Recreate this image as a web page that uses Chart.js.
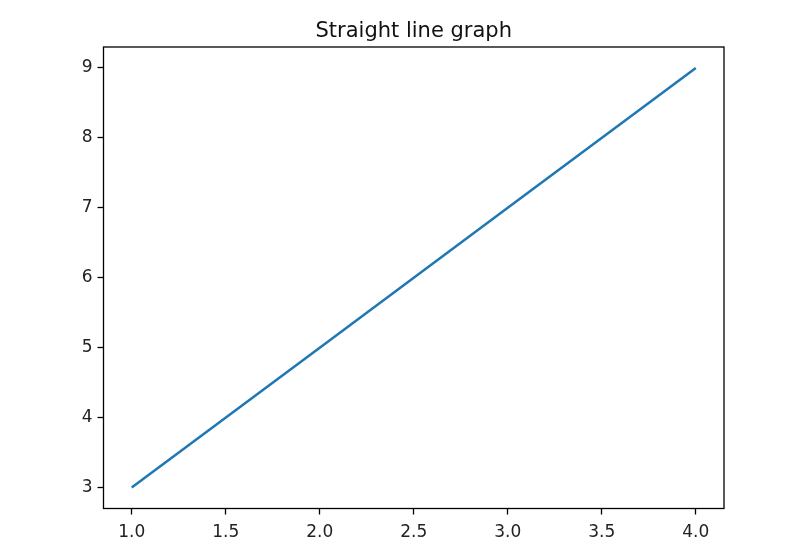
<!DOCTYPE html>
<html>
<head>
<meta charset="utf-8">
<script src="https://cdn.jsdelivr.net/npm/chart.js@4.4.1/dist/chart.umd.min.js"></script>
<style>
  html, body { margin: 0; padding: 0; background: #fff; }
  canvas { display: block; }
</style>
</head>
<body>
<canvas id="chart" width="796" height="554"></canvas>
<script>
// data
const xValues = [1, 2, 3, 4];
const yValues = [3, 5, 7, 9];
const xTicks = [1.0, 1.5, 2.0, 2.5, 3.0, 3.5, 4.0];
const yTicks = [3, 4, 5, 6, 7, 8, 9];
const chartTitle = 'Straight line graph';

const font = "'DejaVu Sans', sans-serif";

// axes box + title, drawn the way matplotlib does it
const framePlugin = {
    id: 'frame',
    afterDraw(chart) {
        const { ctx, chartArea: a } = chart;
        ctx.save();
        ctx.strokeStyle = '#000';
        ctx.lineWidth = 1.3;
        ctx.strokeRect(a.left, a.top, a.right - a.left, a.bottom - a.top);
        ctx.fillStyle = '#111';
        ctx.font = '21px ' + font;
        ctx.textAlign = 'center';
        ctx.textBaseline = 'alphabetic';
        ctx.fillText(chartTitle, (a.left + a.right) / 2, 37);
        ctx.restore();
    }
};

const ctx = document.getElementById('chart');
new Chart(ctx, {
    type: 'line',
    data: {
        datasets: [{
            data: xValues.map((x, i) => ({ x: x, y: yValues[i] })),
            borderColor: '#1f77b4',
            borderWidth: 2.5,
            pointRadius: 0,
            fill: false,
            tension: 0
        }]
    },
    options: {
        responsive: false,
        animation: false,
        devicePixelRatio: 1,
        layout: { padding: { left: 0, right: 72, top: 47, bottom: 0 } },
        plugins: {
            legend: { display: false },
            title: { display: false },
            tooltip: { enabled: false }
        },
        scales: {
            x: {
                type: 'linear',
                min: 0.85,
                max: 4.15,
                afterBuildTicks: scale => { scale.ticks = xTicks.map(v => ({ value: v })); },
                afterFit: scale => { scale.height = 45.5; },
                grid: { display: true, drawOnChartArea: false, drawTicks: true, tickLength: 6, color: '#000', tickWidth: 1.3 },
                border: { display: false },
                ticks: {
                    callback: v => v.toFixed(1),
                    color: '#222',
                    padding: 8,
                    maxRotation: 0,
                    font: { family: font, size: 17 }
                }
            },
            y: {
                min: 2.7,
                max: 9.3,
                afterBuildTicks: scale => { scale.ticks = yTicks.map(v => ({ value: v })); },
                afterFit: scale => { scale.width = 103.5; },
                grid: { display: true, drawOnChartArea: false, drawTicks: true, tickLength: 6, color: '#000', tickWidth: 1.3 },
                border: { display: false },
                ticks: {
                    color: '#222',
                    padding: 5,
                    font: { family: font, size: 17 }
                }
            }
        }
    },
    plugins: [framePlugin]
});
</script>
</body>
</html>
